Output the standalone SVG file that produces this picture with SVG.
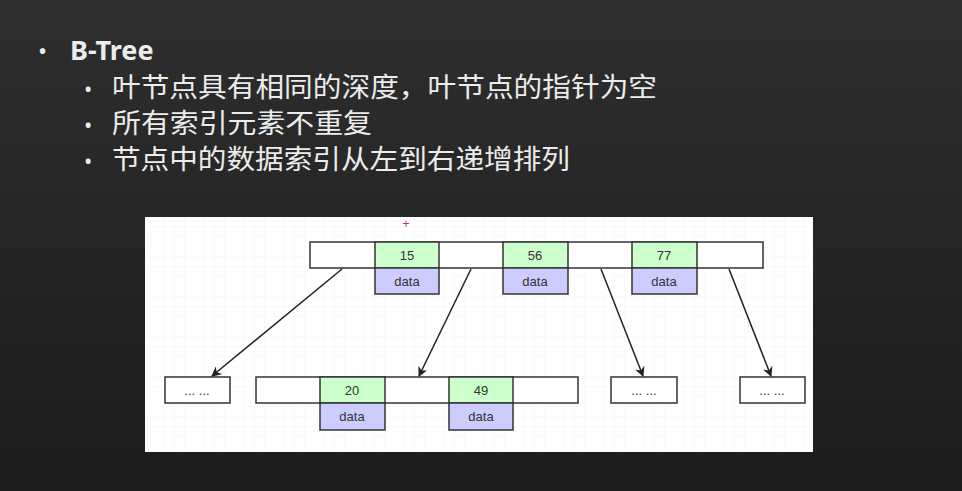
<svg xmlns="http://www.w3.org/2000/svg" width="962" height="491" viewBox="0 0 962 491">
<defs>
<linearGradient id="bg" x1="0" y1="0" x2="0" y2="1"><stop offset="0" stop-color="#2e2e2e"/><stop offset="1" stop-color="#1c1c1c"/></linearGradient>
<pattern id="grid" width="10" height="10" patternUnits="userSpaceOnUse" x="145" y="217"><path d="M10 0V10H0" fill="none" stroke="#eeeeee" stroke-width="0.6"/></pattern>
<marker id="ar" markerWidth="10" markerHeight="10" refX="9" refY="5" orient="auto" markerUnits="userSpaceOnUse"><path d="M0 0L10 5L0 10L3 5Z" fill="#222"/></marker>
<style>
.t{font-family:"Noto Sans","Noto Sans CJK SC",sans-serif;fill:#ececec}
.w{fill:#fff;stroke:#333;stroke-width:1.5}
.g{fill:#ccffcc;stroke:#333;stroke-width:1.5}
.d{fill:#ccccff;stroke:#333;stroke-width:1.5}
.n{font-family:"Liberation Sans",sans-serif;font-size:13px;fill:#333;text-anchor:middle}
.e{stroke:#222;stroke-width:1.5;fill:none}
</style>
</defs>
<rect width="962" height="491" fill="url(#bg)"/>
<g id="text">
<text class="t" x="38" y="60" font-size="24">•</text>
<text class="t" x="70" y="60" font-size="27" font-weight="bold" fill="#fff">B-Tree</text>
<text class="t" x="84" y="97" font-size="22">•</text>
<text class="t" x="112" y="97" font-size="27" textLength="545" lengthAdjust="spacingAndGlyphs">叶节点具有相同的深度，叶节点的指针为空</text>
<text class="t" x="84" y="133" font-size="22">•</text>
<text class="t" x="112" y="133" font-size="27" textLength="260" lengthAdjust="spacingAndGlyphs">所有索引元素不重复</text>
<text class="t" x="84" y="169" font-size="22">•</text>
<text class="t" x="112" y="169" font-size="27" textLength="458" lengthAdjust="spacingAndGlyphs">节点中的数据索引从左到右递增排列</text>
</g>
<rect x="145" y="217" width="668" height="235" fill="#fff"/>
<rect x="145" y="217" width="668" height="235" fill="url(#grid)"/>
<text x="406" y="228" font-family="Liberation Sans,sans-serif" font-size="12" fill="#e0245e" text-anchor="middle">+</text>
<g id="root">
<rect class="w" x="310" y="242" width="453" height="26"/>
<rect class="g" x="375" y="242" width="64" height="26"/><text class="n" x="407" y="260">15</text>
<rect class="d" x="375" y="268" width="64" height="26"/><text class="n" x="407" y="286">data</text>
<rect class="g" x="503" y="242" width="65" height="26"/><text class="n" x="535" y="260">56</text>
<rect class="d" x="503" y="268" width="65" height="26"/><text class="n" x="535" y="286">data</text>
<rect class="g" x="632" y="242" width="65" height="26"/><text class="n" x="664" y="260">77</text>
<rect class="d" x="632" y="268" width="65" height="26"/><text class="n" x="664" y="286">data</text>
</g>
<g id="leaf1"><rect class="w" x="165" y="377" width="65" height="26"/><text class="n" x="197" y="395" font-size="10">... ...</text></g>
<g id="leaf2">
<rect class="w" x="256" y="377" width="322" height="26"/>
<rect class="g" x="320" y="377" width="65" height="26"/><text class="n" x="352" y="395">20</text>
<rect class="d" x="320" y="403" width="65" height="27"/><text class="n" x="352" y="421">data</text>
<rect class="g" x="449" y="377" width="64" height="26"/><text class="n" x="481" y="395">49</text>
<rect class="d" x="449" y="403" width="64" height="27"/><text class="n" x="481" y="421">data</text>
</g>
<g id="leaf3"><rect class="w" x="611" y="377" width="66" height="26"/><text class="n" x="644" y="395" font-size="10">... ...</text></g>
<g id="leaf4"><rect class="w" x="740" y="377" width="65" height="26"/><text class="n" x="772" y="395" font-size="10">... ...</text></g>
<g id="edges">
<path class="e" d="M342 269L212 376" marker-end="url(#ar)"/>
<path class="e" d="M471 269L419 376" marker-end="url(#ar)"/>
<path class="e" d="M601 269L643 376" marker-end="url(#ar)"/>
<path class="e" d="M729 269L771 376" marker-end="url(#ar)"/>
</g>
</svg>
